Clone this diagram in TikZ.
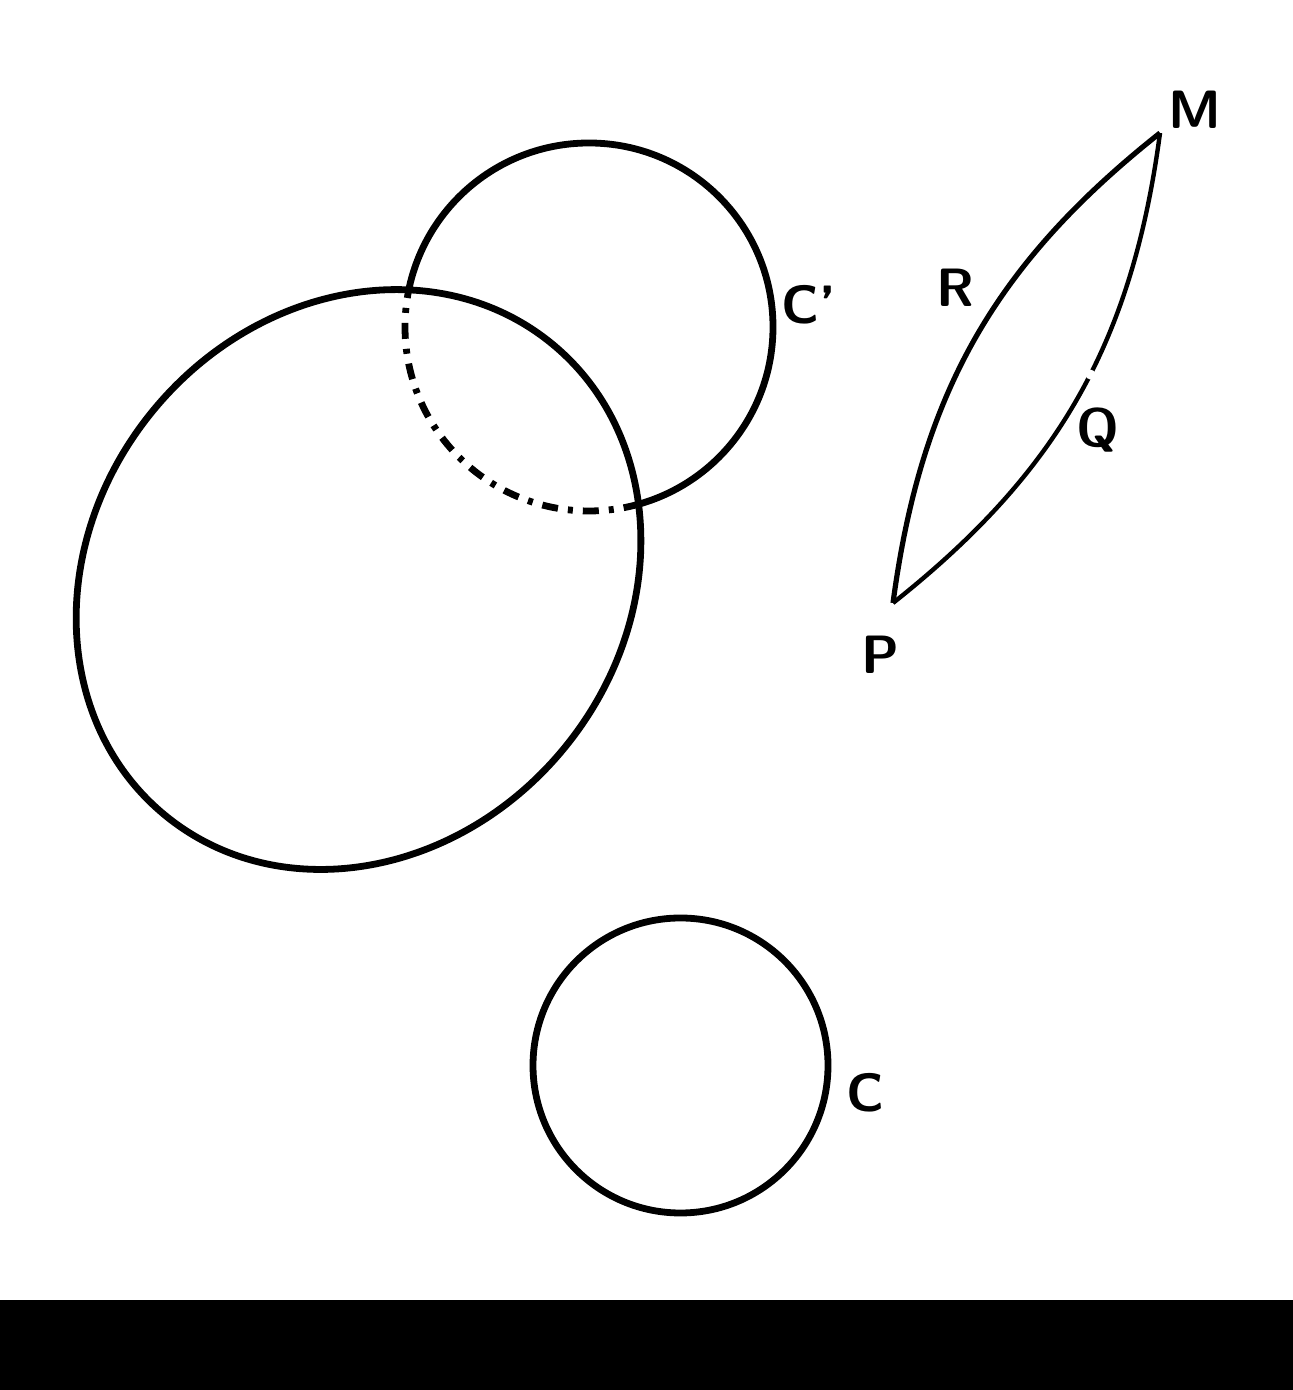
\documentclass[tikz,border=0pt]{standalone}
\usepackage{tikz}

\begin{document}
\begin{tikzpicture}[x=0.5pt,y=0.5pt,
rim/.style={line width=3.4pt},
hidden/.style={line width=3.4pt,dash pattern=on 8pt off 5pt on 2.5pt off 5pt},
lens/.style={line width=2.2pt,line join=miter},
lbl/.style={font=\fontsize{27}{30}\selectfont\sffamily\bfseries,inner sep=0pt}]
\useasboundingbox (0,0) rectangle (1293,1390);
\fill[black] (0,0) rectangle (1293,90);
\coordinate (o) at (358.5,810.5);
\coordinate (cp) at (589,1063);
\coordinate (c) at (680.5,324.5);
\coordinate (m) at (1160,1257);
\coordinate (p) at (893,787);
\draw[rim] (cp) circle[radius=184];
\fill[white,rotate around={50.6:(o)}] (o) ellipse[x radius=305,y radius=266];
\begin{scope}
\clip[rotate around={50.6:(o)}] (o) ellipse[x radius=305,y radius=266];
\draw[hidden] (cp) circle[radius=184];
\end{scope}
\draw[rim,rotate around={50.6:(o)}] (o) ellipse[x radius=305,y radius=266];
\draw[rim] (c) circle[radius=147.5];
\draw[lens,line width=2.6pt] (p) to[bend left=22] (m);
\draw[lens] (m) to[bend left=22] coordinate[pos=0.45] (q) (p);
\fill[white] (q) circle[radius=5];
\node[lbl] (lm) at (1195,1280) {M};
\node[lbl] (lr) at (955,1102) {R};
\node[lbl] (lq) at (1098,960) {Q};
\node[lbl] (lp) at (880,735) {P};
\node[lbl,anchor=west] (lcp) at (781,1085) {C'};
\node[lbl] (lc) at (865,297) {C};
\end{tikzpicture}
\end{document}
